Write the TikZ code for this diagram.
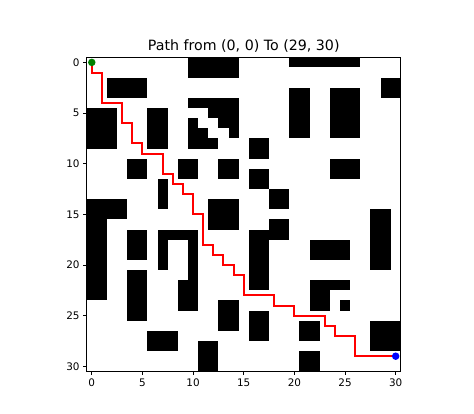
\documentclass[tikz,border=0pt]{standalone}
\usepackage{fontspec}
\setmainfont{DejaVu Sans}
\usepackage{tikz}
\usetikzlibrary{arrows.meta,positioning,calc}

\begin{document}
\begin{tikzpicture}[x=10.13pt,y=10.13pt,
  wall/.style={fill=black},
  route/.style={draw=red,line width=2pt,line join=miter},
  tickmark/.style={line width=0.8pt},
  ticklabel/.style={inner sep=0pt,font=\fontsize{10.4}{12}\selectfont},
  dot/.style={circle,minimum size=7.5pt,inner sep=0pt}]
\useasboundingbox (-9.06,6.16) rectangle (37.73,-34.61);
% obstacles: first col / last col / first row / last row
\foreach \ca/\cb/\ra/\rb in {10/14/0/1,20/26/0/0,2/5/2/3,29/30/2/3,
  10/14/4/4,12/14/5/5,10/10/6/6,13/14/6/6,10/11/7/7,14/14/7/7,10/12/8/8,
  0/2/5/8,6/7/5/8,20/21/3/7,24/26/3/7,16/17/8/9,4/5/10/11,9/10/10/11,
  13/14/10/11,24/26/10/11,16/17/11/12,7/7/12/14,18/19/13/14,0/3/14/15,
  0/1/16/23,12/14/14/16,28/29/15/20,18/19/16/17,16/17/17/22,4/5/17/19,
  7/10/17/17,7/7/18/20,10/10/18/21,9/10/22/24,22/25/18/19,4/5/21/25,
  22/25/22/22,22/23/23/24,25/25/24/24,13/14/24/26,16/17/25/27,
  21/22/26/27,28/30/26/28,6/8/27/28,11/12/28/30,21/22/29/30}
  \fill[wall] (\ca-0.5,-\ra+0.5) rectangle (\cb+0.5,-\rb-0.5);
% path
\coordinate (start) at (0,0);
\coordinate (goal) at (30,-29);
\draw[route] (start) |- (1,-1) |- (3,-4) |- (4,-6) |- (5,-8) |- (7,-9)
  |- (8,-11) |- (9,-12) |- (10,-13) |- (11,-15) |- (12,-18) |- (13,-19)
  |- (14,-20) |- (15,-21) |- (18,-23) |- (20,-24) |- (23,-25) |- (24,-26)
  |- (26,-27) |- (goal);
\node[dot,fill=green!50!black] (sdot) at (start) {};
\node[dot,fill=blue] (gdot) at (goal) {};
% axes
\draw[line width=0.8pt] (-0.5,0.5) rectangle (30.5,-30.5);
\foreach \t in {0,5,...,30}{
  \draw[tickmark] (\t,-30.5) -- ++(0,-3.5pt);
  \node[ticklabel,anchor=north] (xt\t) at ([yshift=-7pt]\t,-30.5) {\t};
  \draw[tickmark] (-0.5,-\t) -- ++(-3.5pt,0);
  \node[ticklabel,anchor=east] (yt\t) at ([xshift=-7pt]-0.5,-\t) {\t};
}
\node[font=\fontsize{14.2}{16}\selectfont,anchor=base] (title) at (15,1.22) {Path from (0, 0) To (29, 30)};
\end{tikzpicture}
\end{document}
